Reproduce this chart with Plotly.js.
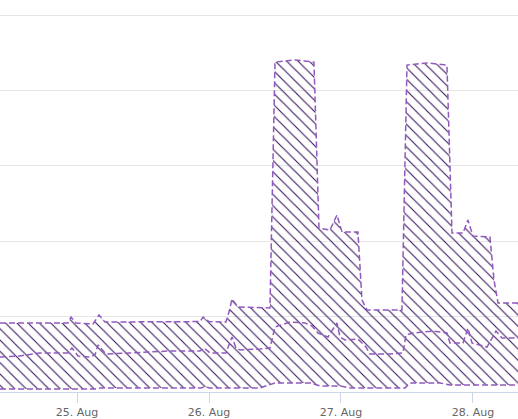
<!DOCTYPE html>
<html>
<head>
<meta charset="utf-8">
<script src="https://cdn.plot.ly/plotly-3.0.1.min.js"></script>
<style>
  html, body { margin: 0; padding: 0; background: #ffffff; }
  #chart { width: 518px; height: 419px; }
</style>
</head>
<body>
<div id="chart"></div>
<script>
// Upper bound of the range
var upperTimes = [
  '2021-08-24 10:00','2021-08-24 22:22','2021-08-24 22:55','2021-08-24 23:49',
  '2021-08-25 02:55','2021-08-25 04:00','2021-08-25 05:05','2021-08-25 22:22',
  '2021-08-25 22:55','2021-08-26 00:00','2021-08-26 03:05','2021-08-26 03:38',
  '2021-08-26 04:11','2021-08-26 05:16','2021-08-26 11:05','2021-08-26 12:00',
  '2021-08-26 15:38','2021-08-26 19:05','2021-08-26 20:00','2021-08-26 22:00',
  '2021-08-26 23:16','2021-08-27 00:11','2021-08-27 03:05','2021-08-27 03:49',
  '2021-08-27 04:44','2021-08-27 11:05','2021-08-27 12:00','2021-08-27 15:38',
  '2021-08-27 19:16','2021-08-27 20:11','2021-08-27 22:11','2021-08-27 23:05',
  '2021-08-28 00:00','2021-08-28 03:05','2021-08-28 03:49','2021-08-28 04:33',
  '2021-08-28 08:11'
];
var upperValues = [
  45.8, 45.8, 49.7, 45.8,
  45.1, 51.1, 46.4, 46.7,
  49.7, 46.7, 46.4, 53.0,
  61.7, 56.4, 55.7, 218.8,
  220.2, 218.8, 108.7, 107.4,
  117.4, 106.1, 106.1, 61.0,
  54.4, 54.4, 216.8, 218.2,
  216.8, 105.4, 105.4, 114.1,
  103.4, 102.8, 74.3, 59.0,
  59.0
];

// Middle series
var midTimes = [
  '2021-08-24 10:00','2021-08-24 13:38','2021-08-24 17:16','2021-08-24 22:22',
  '2021-08-24 23:05','2021-08-25 00:11','2021-08-25 02:22','2021-08-25 03:16',
  '2021-08-25 03:49','2021-08-25 04:33','2021-08-25 05:16','2021-08-25 09:38',
  '2021-08-25 16:55','2021-08-25 22:22','2021-08-25 23:05','2021-08-26 00:11',
  '2021-08-26 03:05','2021-08-26 03:38','2021-08-26 04:11','2021-08-26 04:55',
  '2021-08-26 05:38','2021-08-26 09:16','2021-08-26 11:05','2021-08-26 12:00',
  '2021-08-26 14:44','2021-08-26 17:27','2021-08-26 18:44','2021-08-26 19:49',
  '2021-08-26 21:38','2021-08-26 23:16','2021-08-26 23:49','2021-08-27 00:44',
  '2021-08-27 03:05','2021-08-27 04:33','2021-08-27 05:16','2021-08-27 08:55',
  '2021-08-27 11:16','2021-08-27 11:49','2021-08-27 13:05','2021-08-27 16:44',
  '2021-08-27 19:16','2021-08-27 19:49','2021-08-27 22:11','2021-08-27 23:05',
  '2021-08-27 23:49','2021-08-28 02:33','2021-08-28 04:11','2021-08-28 05:16',
  '2021-08-28 08:11'
];
var midValues = [
  23.2, 23.9, 25.9, 25.9,
  29.2, 23.9, 23.2, 24.5,
  31.2, 27.9, 25.2, 25.9,
  27.2, 27.2, 29.2, 25.9,
  25.9, 31.2, 36.5, 29.2,
  27.9, 28.5, 29.2, 43.1,
  46.4, 45.8, 43.8, 39.1,
  36.5, 45.8, 36.5, 34.5,
  35.1, 29.8, 25.2, 25.2,
  25.9, 37.8, 39.1, 40.4,
  39.1, 32.5, 32.5, 42.4,
  32.5, 29.8, 40.4, 35.8,
  35.8
];

// Lower bound of the range
var lowerTimes = [
  '2021-08-24 10:00','2021-08-25 03:16','2021-08-25 04:11','2021-08-25 22:22',
  '2021-08-25 23:16','2021-08-26 00:11','2021-08-26 09:16','2021-08-26 11:05',
  '2021-08-26 12:00','2021-08-26 18:22','2021-08-26 20:11','2021-08-26 23:49',
  '2021-08-27 01:38','2021-08-27 11:38','2021-08-27 12:33','2021-08-27 18:00',
  '2021-08-27 19:49','2021-08-28 01:16','2021-08-28 08:11'
];
var lowerValues = [
  2.0, 2.0, 2.7, 2.7,
  3.3, 2.7, 2.7, 4.6,
  6.0, 6.0, 4.0, 4.0,
  2.7, 2.7, 6.0, 6.0,
  4.6, 4.6, 4.6
];

var tickVals = ['2021-08-25','2021-08-26','2021-08-27','2021-08-28'];
var tickText = ['25. Aug','26. Aug','27. Aug','28. Aug'];

var lineColor = '#9159bf';
var hatchColor = '#3a1760';

var traces = [
  {
    x: lowerTimes, y: lowerValues, type: 'scatter', mode: 'lines',
    line: {color: lineColor, width: 1.5, dash: '6px,3px'},
    hoverinfo: 'skip', showlegend: false
  },
  {
    x: upperTimes, y: upperValues, type: 'scatter', mode: 'lines',
    line: {color: lineColor, width: 1.5, dash: '6px,3px'},
    fill: 'tonexty',
    fillcolor: 'rgba(255,255,255,0)',
    fillpattern: {shape: '\\', size: 8, solidity: 0.14, fgcolor: hatchColor, bgcolor: 'rgba(255,255,255,0)'},
    hoverinfo: 'skip', showlegend: false
  },
  {
    x: midTimes, y: midValues, type: 'scatter', mode: 'lines',
    line: {color: lineColor, width: 1.5, dash: '6px,3px'},
    hoverinfo: 'skip', showlegend: false
  }
];

var layout = {
  width: 518, height: 419,
  margin: {l: 0, r: 0, t: 12, b: 27, pad: 0},
  paper_bgcolor: '#ffffff', plot_bgcolor: '#ffffff',
  showlegend: false,
  font: {family: 'DejaVu Sans, sans-serif', size: 11, color: '#666666'},
  xaxis: {
    type: 'date',
    range: ['2021-08-24 10:00', '2021-08-28 08:11'],
    tickmode: 'array', tickvals: tickVals, ticktext: tickText,
    showgrid: false, zeroline: false,
    showline: true, linecolor: '#ccd6eb', linewidth: 1,
    ticks: 'outside', ticklen: 10, tickcolor: '#ccd6eb', tickwidth: 1,
    tickfont: {family: 'DejaVu Sans, sans-serif', size: 11, color: '#666666'}
  },
  yaxis: {
    range: [0, 252],
    tickmode: 'array',
    tickvals: [50, 100, 150, 200, 250],
    showticklabels: false, ticks: '',
    showgrid: true, gridcolor: '#e6e6e6', gridwidth: 1,
    zeroline: false, showline: false
  }
};

Plotly.newPlot('chart', traces, layout, {displayModeBar: false, staticPlot: true});
</script>
</body>
</html>
